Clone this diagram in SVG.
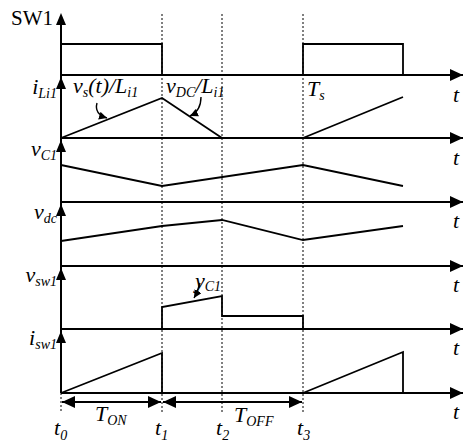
<svg xmlns="http://www.w3.org/2000/svg" width="474" height="447" viewBox="0 0 474 447">
<defs>
<style>
.ax{stroke:#000;stroke-width:2;fill:none}
.wf{stroke:#000;stroke-width:1.8;fill:none;stroke-linejoin:miter}
.cv{stroke:#000;stroke-width:1.4;fill:none}
.dot{stroke:#000;stroke-width:1;stroke-dasharray:2,2;fill:none}
.ah{fill:#000}
text{fill:#000}
.lab{font-style:italic;font-size:22px}
.sub{font-size:14px;font-style:italic}
.tl{font-style:italic;font-size:22px}
</style>
<marker id="harr" markerWidth="14" markerHeight="12" refX="13" refY="6" orient="auto" markerUnits="userSpaceOnUse">
<path d="M0,0 L13,6 L0,12 Z" fill="#000"/>
</marker>
<marker id="sarr" markerWidth="10" markerHeight="9" refX="8" refY="4" orient="auto" markerUnits="userSpaceOnUse">
<path d="M0,0 L8,4 L0,8 Z" fill="#000"/>
</marker>
</defs>
<rect width="474" height="447" fill="#fff"/>

<g id="dotted-lines">
<line class="dot" x1="162" y1="14" x2="162" y2="412"/>
<line class="dot" x1="222" y1="14" x2="222" y2="412"/>
<line class="dot" x1="303" y1="14" x2="303" y2="412"/>
<line class="dot" x1="61" y1="393" x2="61" y2="412"/>
</g>

<g id="axes">
<line class="ax" x1="61" y1="393" x2="61" y2="20"/>
<path class="ah" d="M61,13 L66,25 L56,25 Z"/>
<path class="ah" d="M61,77 L66,89 L56,89 Z"/>
<path class="ah" d="M61,140 L66,152 L56,152 Z"/>
<path class="ah" d="M61,204 L66,216 L56,216 Z"/>
<path class="ah" d="M61,268 L66,280 L56,280 Z"/>
<path class="ah" d="M61,331 L66,343 L56,343 Z"/>
<line class="ax" x1="61" y1="75" x2="463" y2="75" marker-end="url(#harr)"/>
<line class="ax" x1="61" y1="138" x2="463" y2="138" marker-end="url(#harr)"/>
<line class="ax" x1="61" y1="202" x2="463" y2="202" marker-end="url(#harr)"/>
<line class="ax" x1="61" y1="266" x2="463" y2="266" marker-end="url(#harr)"/>
<line class="ax" x1="61" y1="329" x2="463" y2="329" marker-end="url(#harr)"/>
<line class="ax" x1="61" y1="393" x2="463" y2="393" marker-end="url(#harr)"/>
</g>

<g id="labels" font-family="Liberation Serif, Times New Roman, serif">
<text x="11" y="25" font-size="21">SW1</text>
<text x="57" y="94" text-anchor="end"><tspan class="lab">i</tspan><tspan class="sub" dy="4">Li1</tspan></text>
<text x="57" y="156" text-anchor="end"><tspan class="lab">v</tspan><tspan class="sub" dy="4">C1</tspan></text>
<text x="57" y="219" text-anchor="end"><tspan class="lab">v</tspan><tspan class="sub" dy="4">dc</tspan></text>
<text x="57" y="282" text-anchor="end"><tspan class="lab">v</tspan><tspan class="sub" dy="4">sw1</tspan></text>
<text x="57" y="345" text-anchor="end"><tspan class="lab">i</tspan><tspan class="sub" dy="4">sw1</tspan></text>
<text class="tl" x="453" y="102">t</text>
<text class="tl" x="453" y="165">t</text>
<text class="tl" x="453" y="228">t</text>
<text class="tl" x="453" y="292">t</text>
<text class="tl" x="453" y="355">t</text>
<text class="tl" x="453" y="419">t</text>
<text x="73" y="93"><tspan class="lab">v</tspan><tspan class="sub" dy="4">s</tspan><tspan class="lab" dy="-4">(t)/L</tspan><tspan class="sub" dy="4">i1</tspan></text>
<text x="166" y="93"><tspan class="lab">v</tspan><tspan class="sub" dy="4">DC</tspan><tspan class="lab" dy="-4">/L</tspan><tspan class="sub" dy="4">i1</tspan></text>
<text x="307" y="96"><tspan class="lab">T</tspan><tspan class="sub" dy="4">s</tspan></text>
<text x="195" y="288"><tspan class="lab">y</tspan><tspan class="sub" dy="3">C1</tspan></text>
<text x="95" y="421"><tspan class="lab">T</tspan><tspan class="sub" dy="4">ON</tspan></text>
<text x="234" y="422"><tspan class="lab">T</tspan><tspan class="sub" dy="4">OFF</tspan></text>
<text x="54" y="435"><tspan class="lab">t</tspan><tspan class="sub" dy="5">0</tspan></text>
<text x="155" y="435"><tspan class="lab">t</tspan><tspan class="sub" dy="5">1</tspan></text>
<text x="216" y="435"><tspan class="lab">t</tspan><tspan class="sub" dy="5">2</tspan></text>
<text x="297" y="435"><tspan class="lab">t</tspan><tspan class="sub" dy="5">3</tspan></text>
</g>

<g id="sw1-wave">
<polyline class="wf" points="61,75 61,44 162,44 162,75"/>
<polyline class="wf" points="303,75 303,44 403,44 403,75"/>
</g>

<g id="iLi1-wave">
<polyline class="wf" points="61,138 162,98 222,138"/>
<polyline class="wf" points="303,138 403,97"/>
<path class="cv" d="M97,103 Q94,114 107,118" marker-end="url(#sarr)"/>
<path class="cv" d="M201,97 Q201,111 190,116" marker-end="url(#sarr)"/>
</g>

<g id="vC1-wave">
<polyline class="wf" points="61,165 162,186 303,165 403,186"/>
</g>

<g id="vdc-wave">
<polyline class="wf" points="61,241 162,226 222,220 303,240 403,226"/>
</g>

<g id="vsw1-wave">
<polyline class="wf" points="162,329 162,307 222,296 222,316 303,316 303,329"/>
<path class="cv" d="M200,283 Q197,293 194,298" marker-end="url(#sarr)"/>
</g>

<g id="isw1-wave">
<polyline class="wf" points="61,393 162,353 162,393"/>
<polyline class="wf" points="303,393 403,352 403,393"/>
</g>

<g id="time-intervals">
<line class="ax" x1="112" y1="402" x2="62" y2="402" marker-end="url(#harr)"/>
<line class="ax" x1="112" y1="402" x2="161" y2="402" marker-end="url(#harr)"/>
<line class="ax" x1="232" y1="402" x2="163" y2="402" marker-end="url(#harr)"/>
<line class="ax" x1="232" y1="402" x2="302" y2="402" marker-end="url(#harr)"/>
</g>
</svg>
